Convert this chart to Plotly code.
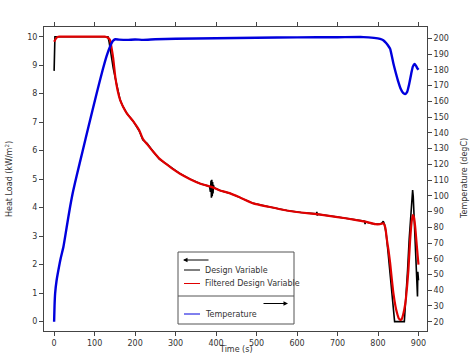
import plotly.graph_objects as go

# ---------------- data ----------------
time_design = [0, 0.5, 2, 5, 60, 100, 133, 136, 140, 146, 151, 157, 163, 170, 180, 196, 210, 219,
               230, 245, 260, 275, 291, 310, 336, 360, 384, 386, 387.5, 388.5, 389.5, 390.5, 391.5,
               392.5, 393.5, 395, 410, 435, 460, 492, 530, 575, 610, 648, 649, 650, 651, 700, 740,
               767, 768, 769, 793, 805, 810, 813, 816, 820, 825, 830, 835, 840, 841, 865, 869,
               873, 877, 881, 884, 885.5, 887, 890, 893, 896, 897.5, 898.3, 899, 900]
design_variable = [8.8, 9.5, 10, 10, 10, 10, 10, 9.8, 9.4, 8.9, 8.55, 8.1, 7.78, 7.55, 7.3, 7.02, 6.7, 6.38,
                   6.25, 5.96, 5.7, 5.55, 5.38, 5.2, 5.0, 4.85, 4.74, 4.55, 4.95, 4.35, 4.98, 4.4, 4.9,
                   4.5, 4.8, 4.7, 4.6, 4.5, 4.35, 4.15, 4.03, 3.9, 3.83, 3.78, 3.85, 3.72, 3.77, 3.67, 3.58,
                   3.52, 3.42, 3.5, 3.42, 3.42, 3.46, 3.52, 3.42, 3.1, 2.4, 1.6, 0.9, 0.15, 0.0, 0.0, 0.8,
                   1.8, 2.9, 3.9, 4.5, 4.62, 4.4, 3.4, 2.2, 1.2, 0.88, 1.75, 1.5, 1.45]

time_filtered = [0, 3, 6, 10, 20, 60, 100, 125, 132, 138, 142, 146, 151, 157, 163, 170, 180, 196, 210,
                 219, 230, 245, 260, 275, 291, 310, 336, 360, 390, 410, 435, 460, 492, 530, 575, 610,
                 649, 700, 740, 768, 793, 805, 813, 818, 822, 826, 830, 834, 838, 843, 847, 851, 855,
                 859, 863, 867, 871, 875, 879, 883, 886, 889, 892, 895, 898, 900]
filtered_design_variable = [9.82, 9.9, 9.96, 10, 10, 10, 10, 10, 9.97, 9.88, 9.6, 9.24, 8.6, 8.1, 7.78,
                            7.55, 7.3, 7.02, 6.72, 6.42, 6.22, 5.96, 5.72, 5.55, 5.38, 5.2, 5.0, 4.85,
                            4.72, 4.6, 4.5, 4.35, 4.15, 4.03, 3.9, 3.83, 3.77, 3.67, 3.58, 3.51, 3.42,
                            3.42, 3.45, 3.3, 2.87, 2.5, 2.05, 1.5, 1.0, 0.55, 0.3, 0.12, 0.06, 0.1,
                            0.3, 0.6, 1.1, 1.8, 2.8, 3.5, 3.74, 3.65, 3.3, 2.8, 2.3, 2.0]

time_temp = [0, 1, 2.5, 6, 10.6, 16, 23, 31, 39.5, 47, 56, 70, 85, 105, 120, 130, 138, 145, 151, 160,
             180, 200, 220, 250, 300, 400, 500, 600, 700, 764, 790, 805, 813, 820, 826, 830, 838, 844,
             850, 856, 862, 867, 872, 877, 882, 886, 890, 894, 897, 900]
temperature = [20, 30, 38, 46, 52.8, 60, 67.6, 80, 93, 103, 113, 128, 144, 165, 180, 189, 194.7, 198.3,
               199.4, 199.2, 199.0, 199.3, 199.0, 199.4, 199.7, 200.1, 200.4, 200.6, 200.7, 200.8, 200.3,
               199.7, 198.8, 197.0, 195.0, 193.3, 184, 178, 172.5, 168, 165.3, 164.6, 166, 171, 177.5,
               182, 183.7, 182.5, 181, 180]

x_ticks = list(range(0, 1000, 100))
y_ticks = list(range(0, 11))
y2_ticks = list(range(20, 210, 10))

legend_left = ["Design Variable", "Filtered Design Variable"]
legend_right = ["Temperature"]

# ---------------- figure ----------------
W, H = 474, 355
L, R, T, B = 44, 427, 27, 331
FONT = "DejaVu Sans"
TXT = "#333333"
AX = "#444444"


def px(x):
    return (x - L) / (R - L)


def py(y):
    return (B - y) / (B - T)


fig = go.Figure()
fig.add_trace(go.Scatter(x=time_design, y=design_variable, mode="lines", name=legend_left[0],
                         line=dict(color="black", width=1.6), showlegend=False))
fig.add_trace(go.Scatter(x=time_filtered, y=filtered_design_variable, mode="lines", name=legend_left[1],
                         line=dict(color="#e00000", width=2.2, shape="spline", smoothing=0.5),
                         showlegend=False))
fig.add_trace(go.Scatter(x=time_temp, y=temperature, mode="lines", name=legend_right[0], yaxis="y2",
                         line=dict(color="#0000dd", width=2.4, shape="spline", smoothing=0.5),
                         showlegend=False))

axis_common = dict(showgrid=False, zeroline=False, showline=True, linecolor=AX, linewidth=1,
                   ticks="outside", ticklen=4, tickcolor=AX, tickwidth=1,
                   tickfont=dict(family=FONT, size=8, color=TXT), automargin=False)

fig.update_layout(
    width=W, height=H,
    margin=dict(l=L, r=W - R, t=T, b=H - B, pad=0),
    paper_bgcolor="white", plot_bgcolor="white",
    font=dict(family=FONT, size=8, color=TXT),
    xaxis=dict(range=[-25, 921], tickvals=x_ticks, mirror="ticks", **axis_common),
    yaxis=dict(range=[-0.33, 10.34], tickvals=y_ticks, **axis_common),
    yaxis2=dict(range=[14.1, 207.2], tickvals=y2_ticks, overlaying="y", side="right", anchor="x",
                **axis_common),
    showlegend=False,
)

annotations = [
    dict(x=px(235.5), y=py(349), xref="paper", yref="paper", text="Time (s)", showarrow=False,
         font=dict(family=FONT, size=8, color=TXT), xanchor="center", yanchor="middle"),
    dict(x=px(9), y=py(179), xref="paper", yref="paper", text="Heat Load (kW/m<sup>2</sup>)",
         textangle=-90, showarrow=False, font=dict(family=FONT, size=8, color=TXT),
         xanchor="center", yanchor="middle"),
    dict(x=px(464), y=py(179), xref="paper", yref="paper", text="Temperature (degC)",
         textangle=-90, showarrow=False, font=dict(family=FONT, size=8, color=TXT),
         xanchor="center", yanchor="middle"),
]

# legend box
shapes = [
    dict(type="rect", xref="paper", yref="paper", x0=px(178), x1=px(294), y0=py(324), y1=py(252),
         line=dict(color="#555555", width=1), fillcolor="white", layer="above"),
    dict(type="line", xref="paper", yref="paper", x0=px(178), x1=px(294), y0=py(296), y1=py(296),
         line=dict(color="#555555", width=1), layer="above"),
]
legend_rows = [(legend_left[0], "black", 270), (legend_left[1], "#e00000", 283.5),
               (legend_right[0], "#0000dd", 314)]
for label, color, yy in legend_rows:
    shapes.append(dict(type="line", xref="paper", yref="paper", x0=px(184), x1=px(200),
                       y0=py(yy), y1=py(yy), line=dict(color=color, width=1), layer="above"))
    annotations.append(dict(x=px(203), y=py(yy), xref="paper", yref="paper", text=label,
                            showarrow=False, xanchor="left", yanchor="middle",
                            font=dict(family=FONT, size=8, color=TXT)))
# axis arrows in legend
annotations.append(dict(x=px(183), y=py(260), xref="paper", yref="paper", text="", showarrow=True,
                        ax=27, ay=0, arrowhead=2, arrowsize=0.9, arrowwidth=1, arrowcolor="black"))
annotations.append(dict(x=px(288), y=py(303.5), xref="paper", yref="paper", text="", showarrow=True,
                        ax=-26, ay=0, arrowhead=2, arrowsize=0.9, arrowwidth=1, arrowcolor="black"))

fig.update_layout(shapes=shapes, annotations=annotations)

# remove the browser's default 8px body margin so the figure fills the window exactly
fig.write_html("out.html", config={"displayModeBar": False},
               post_script="document.body.style.margin='0';document.body.style.padding='0';")
